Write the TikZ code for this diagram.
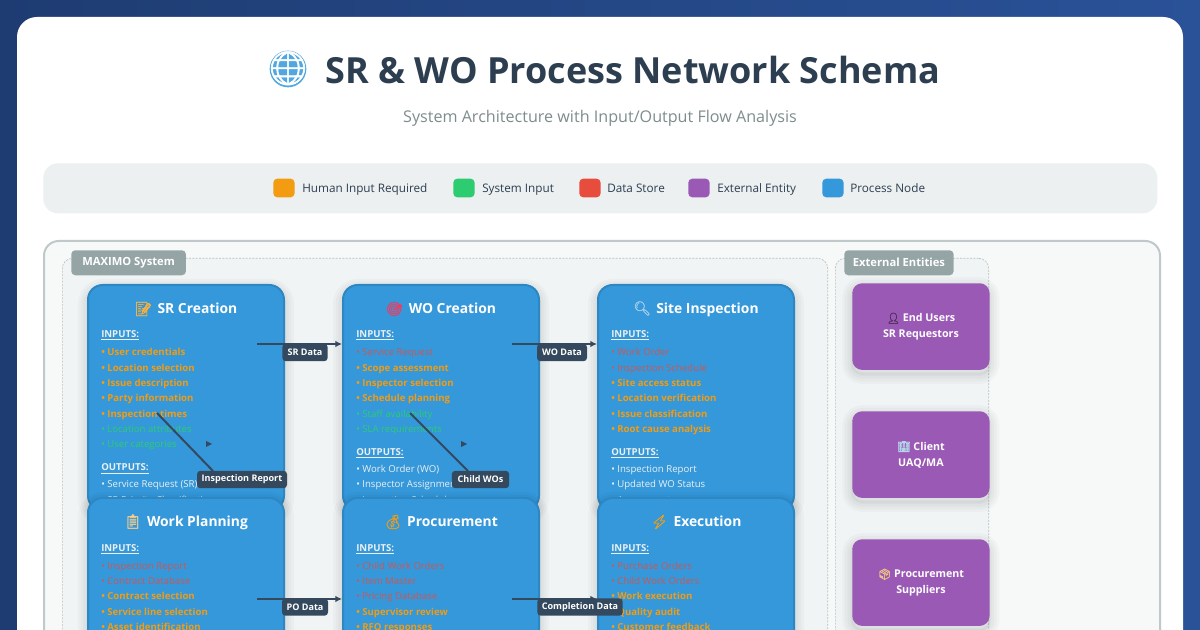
\documentclass[tikz,border=0pt]{standalone}
\usepackage{fontspec}
\usetikzlibrary{arrows.meta}
\setmainfont{Open Sans}
\newfontfamily\emojifont[FakeBold=1.5]{Noto Emoji}

\definecolor{humancol}{HTML}{F39C12}
\definecolor{systemcol}{HTML}{2ECC71}
\definecolor{storecol}{HTML}{E74C3C}
\definecolor{externalcol}{HTML}{9B59B6}
\definecolor{processcol}{HTML}{3498DB}
\definecolor{processedge}{HTML}{2980B9}
\definecolor{inkcol}{HTML}{2C3E50}
\definecolor{flowcol}{HTML}{34495E}
\definecolor{tagcol}{HTML}{95A5A6}
\definecolor{paper}{HTML}{ECF0F1}
\definecolor{pageleft}{HTML}{1E3C72}
\definecolor{pageright}{HTML}{2A5298}

\newcommand{\humanline}[1]{{\color{humancol}\bfseries • #1}\\}
\newcommand{\systemline}[1]{{\color{systemcol}• #1}\\}
\newcommand{\storeline}[1]{{\color{storecol!85!processcol}• #1}\\}
\newcommand{\outputline}[1]{{\color{paper}• #1}\\}
\newcommand{\inputshead}{{\color{paper}\bfseries\underline{INPUTS:}}\\[2pt]}
\newcommand{\outputshead}{{\color{paper}\bfseries\underline{OUTPUTS:}}\\[1.3pt]}
\newcommand{\emo}[2]{{\emojifont\color{#1}#2}}

\tikzset{
    softring/.style={preaction={draw=black,draw opacity=0.025,line width=#1,line join=round,
        transform canvas={yshift=-3pt}}},
    softshadow/.style={softring=15pt,softring=11pt,softring=7pt,softring=3pt,softring=1pt},
    proc/.style={softshadow,draw=processedge!70!processcol,line width=1.5pt,fill=processcol,rounded corners=11pt,anchor=north west,
        minimum width=147pt},
    proctitle/.style={text=white,font=\fontsize{10.4}{13}\selectfont\bfseries},
    procitems/.style={anchor=north west,inner sep=0pt,align=left,font=\fontsize{7.2}{11.5}\selectfont},
    ext/.style={softshadow,fill=externalcol,rounded corners=7.5pt,anchor=north west,minimum width=103pt,minimum height=65pt,
        text=white,align=center,font=\fontsize{8}{12}\selectfont\bfseries},
    group/.style={draw=tagcol!70,dash pattern=on 1.5pt off 1pt,line width=0.5pt,fill=paper!75,rounded corners=7.5pt,anchor=north west},
    grouptag/.style={fill=tagcol,rounded corners=3pt,anchor=north west,text=white,minimum height=18.75pt,inner sep=0pt,
        font=\fontsize{8.4}{10}\selectfont\bfseries},
    swatch/.style={rounded corners=3pt,minimum width=16pt,minimum height=14pt,inner sep=0pt,anchor=west},
    legendtext/.style={anchor=base west,inner sep=0pt,text=inkcol,font=\fontsize{8.8}{10}\selectfont},
    flow/.style={draw=flowcol,line width=1.5pt,-{Latex[length=5pt,width=5pt]}},
    skewflow/.style={draw=flowcol,line width=1.5pt},
    flowtag/.style={fill=flowcol,rounded corners=2.5pt,text=white,inner sep=0pt,minimum height=13pt,
        font=\fontsize{6.8}{9}\selectfont\bfseries}
}

\begin{document}
\begin{tikzpicture}[x=0.75pt,y=-0.75pt]
    \useasboundingbox (0,0) rectangle (1200,630);
    \clip (0,0) rectangle (1200,630);

    % page
    \shade[left color=pageleft,right color=pageright] (0,0) rectangle (1200,630);
    \fill[white,rounded corners=15pt] (17,17) rectangle (1183,680);

    % header
    \node[circle,fill=processcol!85,inner sep=0pt,minimum size=27.5pt,font=\fontsize{25}{30}\selectfont] (titleicon) at (288,69)
    {\smash{\makebox[0pt]{\raisebox{-8pt}{\emo{white}{🌐}}}}};
    \node[anchor=west,inner sep=0pt,text=inkcol,font=\fontsize{27}{32}\selectfont\bfseries] (title) at (325,70)
    {SR \& WO Process Network Schema};
    \node[text=tagcol!85!black,font=\fontsize{12.1}{15}\selectfont] (subtitle) at (600,118)
    {System Architecture with Input/Output Flow Analysis};

    % legend
    \node[fill=paper,rounded corners=11pt,anchor=north west,minimum width=835.5pt,minimum height=37.5pt] (legend) at (43,163) {};
    \node[swatch,fill=humancol] (keyhuman) at (273,188) {};
    \node[legendtext] (txthuman) at (302,192.5) {Human Input Required};
    \node[swatch,fill=systemcol] (keysystem) at (453,188) {};
    \node[legendtext] (txtsystem) at (482,192.5) {System Input};
    \node[swatch,fill=storecol] (keystore) at (579,188) {};
    \node[legendtext] (txtstore) at (607,192.5) {Data Store};
    \node[swatch,fill=externalcol] (keyexternal) at (688,188) {};
    \node[legendtext] (txtexternal) at (717,192.5) {External Entity};
    \node[swatch,fill=processcol] (keyprocess) at (822,188) {};
    \node[legendtext] (txtprocess) at (850,192.5) {Process Node};

    % network frame and groups
    \node[draw=tagcol!60,line width=1.5pt,fill=paper!40,rounded corners=11pt,anchor=north west,
        minimum width=837pt,minimum height=330pt] (network) at (43,240) {};
    \node[group,minimum width=574pt,minimum height=320pt] (maximo) at (62,258) {};
    \node[group,minimum width=115pt,minimum height=320pt] (externals) at (835,258) {};
    \node[grouptag,minimum width=86pt] (maximotag) at (71,250) {MAXIMO System};
    \node[grouptag,minimum width=82pt] (externaltag) at (844,250) {External Entities};

    % top row
    \node[proc,minimum height=169pt] (sr) at (87,284) {};
    \node[proctitle] (srtitle) at (186,309) {\emo{humancol!80!white}{📝}\hspace{4pt}SR Creation};
    \node[procitems] (sritems) at (101,330.5) {\inputshead
        \humanline{User credentials}
        \humanline{Location selection}
        \humanline{Issue description}
        \humanline{Party information}
        \humanline{Inspection times}
        \systemline{Location attributes}
        \systemline{User categories}[5.8pt]
        \outputshead
        \outputline{Service Request (SR)}
        \outputline{SR Priority Classification}
    };

    \node[proc,minimum height=169pt] (wo) at (342,284) {};
    \node[proctitle] (wotitle) at (441,309) {\emo{storecol!80!magenta}{🎯}\hspace{4pt}WO Creation};
    \node[procitems] (woitems) at (356,330.5) {\inputshead
        \storeline{Service Request}
        \humanline{Scope assessment}
        \humanline{Inspector selection}
        \humanline{Schedule planning}
        \systemline{Staff availability}
        \systemline{SLA requirements}[5.8pt]
        \outputshead
        \outputline{Work Order (WO)}
        \outputline{Inspector Assignment}
        \outputline{Inspection Schedule}
    };

    \node[proc,minimum height=169pt] (site) at (597,284) {};
    \node[proctitle] (sitetitle) at (696,309) {\emo{paper!60!processcol}{🔍}\hspace{4pt}Site Inspection};
    \node[procitems] (siteitems) at (611,330.5) {\inputshead
        \storeline{Work Order}
        \storeline{Inspection Schedule}
        \humanline{Site access status}
        \humanline{Location verification}
        \humanline{Issue classification}
        \humanline{Root cause analysis}[5.8pt]
        \outputshead
        \outputline{Inspection Report}
        \outputline{Updated WO Status}
        \outputline{Assessment}
    };

    % bottom row
    \node[proc,minimum height=125pt] (plan) at (87,497) {};
    \node[proctitle] (plantitle) at (186,522) {\emo{humancol!50!white}{📋}\hspace{4pt}Work Planning};
    \node[procitems] (planitems) at (101,544) {\inputshead
        \storeline{Inspection Report}
        \storeline{Contract Database}
        \humanline{Contract selection}
        \humanline{Service line selection}
        \humanline{Asset identification}
    };

    \node[proc,minimum height=125pt] (proc) at (342,497) {};
    \node[proctitle] (proctitle) at (441,522) {\emo{humancol}{💰}\hspace{4pt}Procurement};
    \node[procitems] (procitems) at (356,544) {\inputshead
        \storeline{Child Work Orders}
        \storeline{Item Master}
        \storeline{Pricing Database}
        \humanline{Supervisor review}
        \humanline{RFQ responses}
    };

    \node[proc,minimum height=125pt] (exec) at (597,497) {};
    \node[proctitle] (exectitle) at (696,522) {\emo{humancol}{⚡}\hspace{4pt}Execution};
    \node[procitems] (execitems) at (611,544) {\inputshead
        \storeline{Purchase Orders}
        \storeline{Child Work Orders}
        \humanline{Work execution}
        \humanline{Quality audit}
        \humanline{Customer feedback}
    };

    % external entities
    \node[ext] (users) at (852,283) {\emo{externalcol!50!black}{👤}\ End Users\\SR Requestors};
    \node[ext] (client) at (852,411) {\emo{paper!70!processcol}{🏢}\ Client\\UAQ/MA};
    \node[ext] (suppliers) at (852,539) {\emo{humancol!50!paper}{📦}\ Procurement\\Suppliers};

    % flows
    \coordinate (srout) at (257,344);
    \coordinate (woin) at (342,344);
    \coordinate (woout) at (512,344);
    \coordinate (sitein) at (597,344);
    \coordinate (planout) at (257,599);
    \coordinate (procin) at (342,599);
    \coordinate (procout) at (512,599);
    \coordinate (execin) at (597,599);
    \coordinate (srback) at (157,413);
    \coordinate (srbackend) at (213,471);
    \coordinate (woback) at (410,413);
    \coordinate (wobackend) at (468,471);
    \draw[flow] (srout) -- (woin);
    \draw[flow] (woout) -- (sitein);
    \draw[flow] (planout) -- (procin);
    \draw[flow] (procout) -- (execin);
    \draw[skewflow] (srback) -- (srbackend);
    \draw[skewflow] (woback) -- (wobackend);
    \fill[flowcol] (206,441) -- (212,444) -- (206,447) -- cycle;
    \fill[flowcol] (461,441) -- (467,444) -- (461,447) -- cycle;

    \node[flowtag,minimum width=34pt] (srdata) at (305,352.5) {SR Data};
    \node[flowtag,minimum width=37.5pt] (wodata) at (562,352.5) {WO Data};
    \node[flowtag,minimum width=34.5pt] (podata) at (305,607) {PO Data};
    \node[flowtag,minimum width=64pt] (donedata) at (580,607) {Completion Data};
    \node[flowtag,minimum width=67.5pt] (report) at (242,479.5) {Inspection Report};
    \node[flowtag,minimum width=43pt] (childwos) at (480.5,479.5) {Child WOs};
\end{tikzpicture}
\end{document}
